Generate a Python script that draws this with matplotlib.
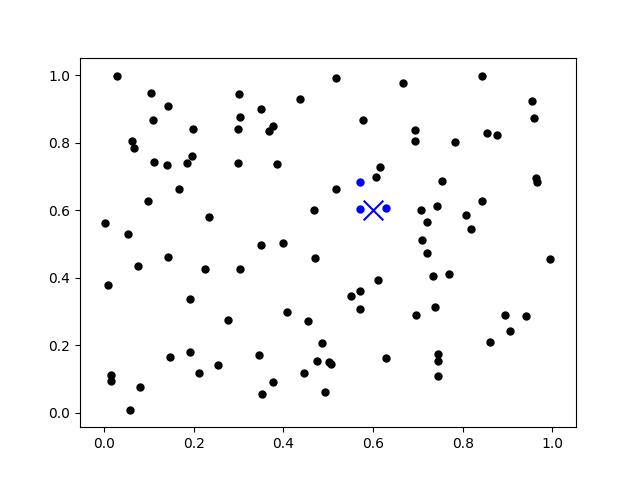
import matplotlib
matplotlib.use("Agg")
import matplotlib.pyplot as plt

# all points (black)
xs = [0.030, 0.104, 0.301, 0.438, 0.143, 0.351, 0.303, 0.110, 0.199, 0.299,
      0.377, 0.367, 0.062, 0.067, 0.196, 0.112, 0.141, 0.185, 0.299, 0.386,
      0.168, 0.099, 0.468, 0.234, 0.003, 0.053, 0.351, 0.399,
      0.470, 0.076, 0.143, 0.225, 0.303, 0.010, 0.192, 0.277, 0.409, 0.456,
      0.486, 0.147, 0.192, 0.346, 0.254, 0.212, 0.476, 0.501, 0.506, 0.446,
      0.016, 0.016, 0.081, 0.377, 0.352, 0.492, 0.059,
      0.710, 0.721, 0.995, 0.612, 0.733, 0.770, 0.550, 0.572, 0.570, 0.697,
      0.739, 0.895, 0.942, 0.906, 0.862, 0.630, 0.746, 0.744, 0.744,
      0.517, 0.668, 0.843, 0.955, 0.960, 0.577, 0.693, 0.693, 0.784, 0.855,
      0.877, 0.615, 0.606, 0.517, 0.963, 0.966, 0.753,
      0.708, 0.742, 0.843, 0.808, 0.819, 0.721]
ys = [0.996, 0.948, 0.945, 0.930, 0.907, 0.898, 0.877, 0.868, 0.841, 0.841,
      0.848, 0.835, 0.806, 0.784, 0.760, 0.743, 0.733, 0.739, 0.739, 0.736,
      0.663, 0.626, 0.599, 0.579, 0.563, 0.530, 0.496, 0.501,
      0.459, 0.435, 0.462, 0.426, 0.426, 0.378, 0.336, 0.274, 0.298, 0.271,
      0.205, 0.166, 0.178, 0.169, 0.142, 0.116, 0.154, 0.151, 0.145, 0.118,
      0.112, 0.093, 0.077, 0.091, 0.056, 0.062, 0.008,
      0.512, 0.474, 0.456, 0.393, 0.405, 0.411, 0.346, 0.360, 0.307, 0.290,
      0.313, 0.290, 0.286, 0.241, 0.209, 0.161, 0.173, 0.154, 0.107,
      0.990, 0.978, 0.996, 0.924, 0.874, 0.868, 0.838, 0.805, 0.802, 0.829,
      0.823, 0.727, 0.698, 0.662, 0.695, 0.683, 0.686,
      0.599, 0.611, 0.626, 0.584, 0.545, 0.566]

# nearest neighbours (blue)
nn_x = [0.570, 0.572, 0.628]
nn_y = [0.683, 0.603, 0.605]

# query point
query = (0.6, 0.6)

plt.figure(figsize=(6.4, 4.8), dpi=100)
plt.scatter(xs, ys, s=25, color='black')
plt.scatter(nn_x, nn_y, s=25, color='blue')
plt.scatter([query[0]], [query[1]], s=200, marker='x', color='blue')
plt.xlim(-0.0535, 1.0528)
plt.ylim(-0.0435, 1.0518)
plt.savefig("out.png")
